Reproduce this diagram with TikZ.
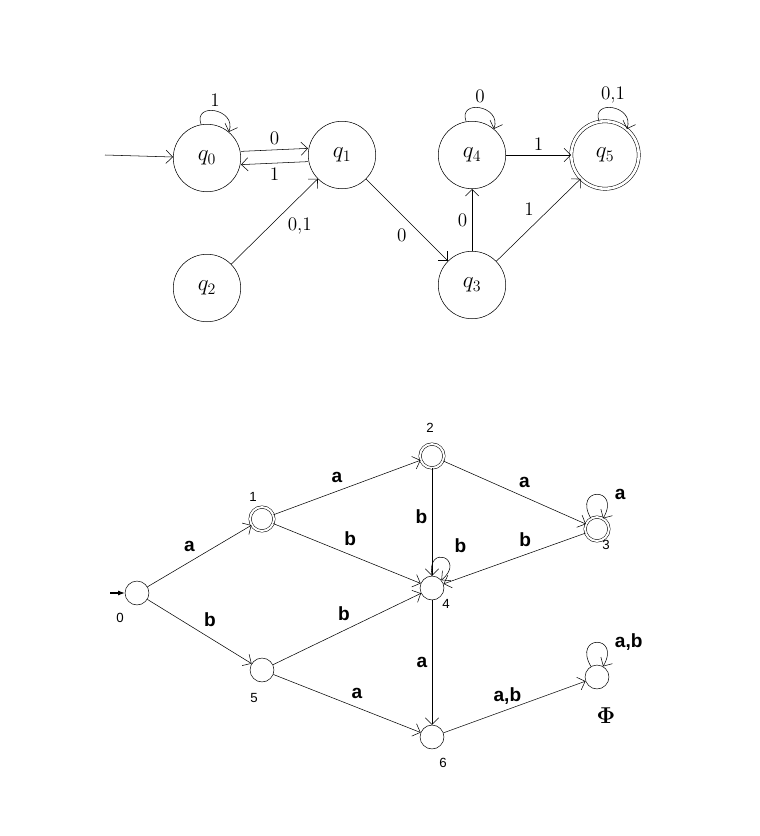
\documentclass[tikz,border=0pt]{standalone}
\usepackage{fontspec}
\newfontfamily\arial{Liberation Sans}
\usetikzlibrary{arrows.meta}
\begin{document}
\begin{tikzpicture}[x=0.0265cm,y=-0.0265cm,
  state/.style={circle,draw,minimum size=64pt*0.75*1.06,inner sep=0pt,font=\LARGE},
  small/.style={circle,draw,minimum size=24*0.75pt,inner sep=0pt},
  lbl/.style={font=\Large},
  blbl/.style={font=\arial\bfseries\Large},
  nlbl/.style={font=\arial\normalsize},
  >={Straight Barb[length=5pt]}]
  \useasboundingbox (0,0) rectangle (760,836);

  % top automaton
  \node[state] (q0) at (207,158) {$q_0$};
  \node[state] (q1) at (342,155) {$q_1$};
  \node[state] (q2) at (207,288) {$q_2$};
  \node[state] (q4) at (472,155) {$q_4$};
  \node[state,double,double distance=2pt] (q5) at (605,155) {$q_5$};
  \node[state] (q3) at (472,285) {$q_3$};
  \coordinate (s0) at (105,155);
  \draw[->] (s0) -- (q0);
  \draw[->] (q0.100) to[out=110,in=70,looseness=2.2] node[lbl,above] {1} (q0.50);
  \draw[->] (q4.100) to[out=110,in=70,looseness=2.2] node[lbl,above] {0} (q4.50);
  \draw[->] (q5.100) to[out=110,in=70,looseness=2.2] node[lbl,above] {0,1} (q5.50);
  \draw[->] ([yshift=5pt]q0.east) -- node[lbl,above] {0} ([yshift=5pt]q1.west);
  \draw[->] ([yshift=-5pt]q1.west) -- node[lbl,below] {1} ([yshift=-5pt]q0.east);
  \draw[->] (q2) -- node[lbl,below right,pos=0.6] {0,1} (q1);
  \draw[->] (q1) -- node[lbl,below left,pos=0.55] {0} (q3);
  \draw[->] (q3) -- node[lbl,left] {0} (q4);
  \draw[->] (q3) -- node[lbl,above left] {1} (q5);
  \draw[->] (q4) -- node[lbl,above] {1} (q5);

  % bottom automaton
  \node[small] (n0) at (137,593) {};
  \node[small,double,double distance=1.5pt] (n1) at (262,519) {};
  \node[small,double,double distance=1.5pt] (n2) at (432,456) {};
  \node[small,double,double distance=1.5pt] (n3) at (597,529) {};
  \node[small] (n4) at (432,588) {};
  \node[small] (n5) at (262,670) {};
  \node[small] (n6) at (432,737) {};
  \node[small] (nf) at (597,677) {};
  \node[nlbl] (l0) at (120,618) {0};
  \node[nlbl] (l1) at (253,497) {1};
  \node[nlbl] (l2) at (430,428) {2};
  \node[nlbl] (l3) at (606,545) {3};
  \node[nlbl] (l4) at (446,604) {4};
  \node[nlbl] (l5) at (254,698) {5};
  \node[nlbl] (l6) at (443,763) {6};
  \node[font=\LARGE\boldmath] (lf) at (606,716) {$\Phi$};
  \coordinate (s1) at (110,593);
  \draw[-{Latex[length=5pt]},thick] (s1) -- (n0);
  \draw[->] (n0) -- node[blbl,above left] {a} (n1);
  \draw[->] (n0) -- node[blbl,above right] {b} (n5);
  \draw[->] (n1) -- node[blbl,above left] {a} (n2);
  \draw[->] (n1) -- node[blbl,above right,pos=0.45] {b} (n4);
  \draw[->] (n2) -- node[blbl,above right] {a} (n3);
  \draw[->] (n2) -- node[blbl,left,pos=0.45] {b} (n4);
  \draw[->] (n3) -- node[blbl,above left,pos=0.35] {b} (n4);
  \draw[->] (n5) -- node[blbl,above left,pos=0.55] {b} (n4);
  \draw[->] (n5) -- node[blbl,above right,pos=0.5] {a} (n6);
  \draw[->] (n4) -- node[blbl,left] {a} (n6);
  \draw[->] (n6) -- node[blbl,above,pos=0.45] {a,b} (nf);
  \draw[->] (n3.120) to[out=120,in=60,min distance=28pt] node[blbl,right=10pt,pos=0.5] {a} (n3.60);
  \draw[->] (n4.90) to[out=100,in=40,min distance=25pt] node[blbl,above right=2pt,pos=0.6] {b} (n4.40);
  \draw[->] (nf.120) to[out=120,in=60,min distance=28pt] node[blbl,right=10pt,pos=0.5] {a,b} (nf.60);
\end{tikzpicture}
\end{document}
